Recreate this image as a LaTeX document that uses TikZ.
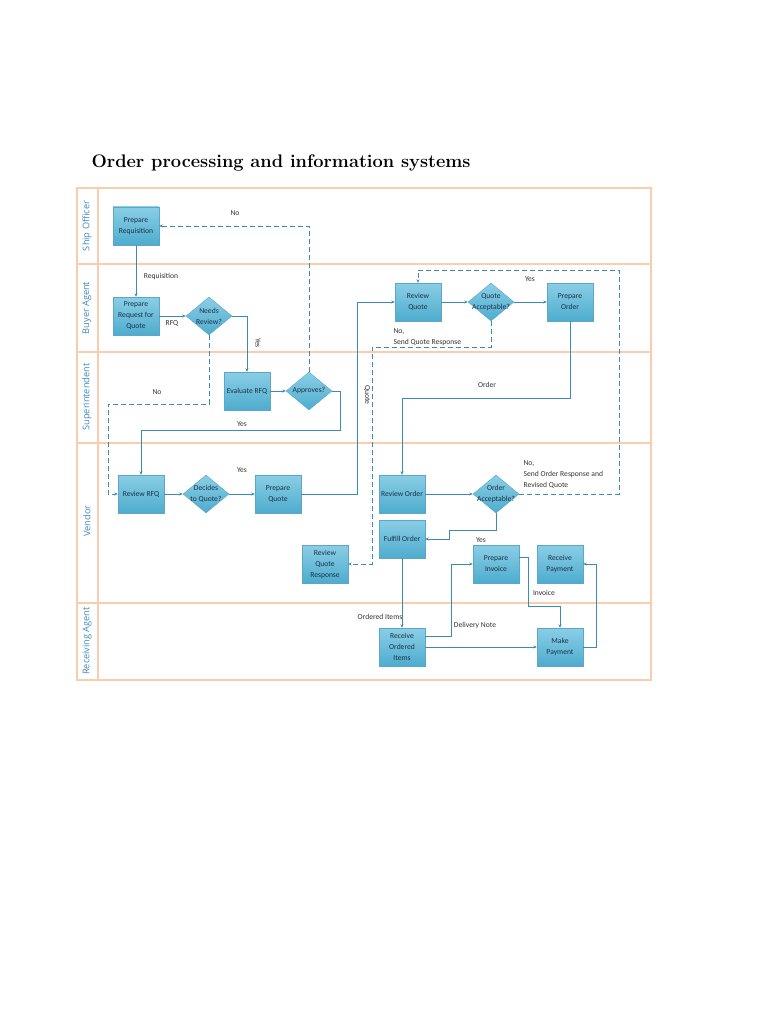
\documentclass[tikz,border=0pt]{standalone}
\usepackage{fontspec}
\newfontfamily\flowfont{Carlito}
\newfontfamily\lanefont{Open Sans}
\usetikzlibrary{shapes.geometric,arrows.meta}

\definecolor{laneline}{RGB}{250,205,172}
\definecolor{lanetext}{RGB}{62,135,192}
\definecolor{boxtop}{RGB}{138,206,230}
\definecolor{boxbot}{RGB}{78,172,206}
\definecolor{boxline}{RGB}{92,166,200}
\definecolor{boxtext}{RGB}{28,48,70}
\definecolor{flowline}{RGB}{58,140,176}

\begin{document}
\begin{tikzpicture}[x=1pt,y=-1pt,>={Stealth[length=3.5pt,width=3pt]},
  every node/.style={font=\flowfont\fontsize{7.6}{11}\selectfont},
  process/.style={rectangle,draw=boxline,top color=boxtop,bottom color=boxbot,
    minimum width=46pt,minimum height=38pt,inner sep=1pt,align=center,text=boxtext},
  decision/.style={diamond,draw=boxline,top color=boxtop,bottom color=boxbot,
    minimum width=46pt,minimum height=38pt,inner sep=0pt},
  dectext/.style={align=center,text=boxtext,inner sep=0pt},
  flow/.style={draw=flowline,line width=0.6pt},
  noflow/.style={flow,dash pattern=on 5pt off 3pt},
  lbl/.style={text=black!80,align=left},
  lane/.style={font=\lanefont\fontsize{9.2}{11}\selectfont,text=lanetext,rotate=90}]
  \useasboundingbox (0,0) rectangle (768,1024);

  % title
  \node[font=\bfseries\fontsize{18.2}{22}\selectfont,anchor=west] (title) at (88,163)
    {Order processing and information systems};

  % swimlanes
  \draw[laneline,line width=2pt] (77,188) rectangle (651,680);
  \draw[laneline,line width=2pt] (98,188) -- (98,680);
  \foreach \ly in {264,352,443,603}
    \draw[laneline,line width=2pt] (77,\ly) -- (651,\ly);
  \node[lane] (lship) at (87,226) {Ship Officer};
  \node[lane] (lbuyer) at (87,308) {Buyer Agent};
  \node[lane] (lsuper) at (87,397) {Superintendent};
  \node[lane] (lvendor) at (87,521) {Vendor};
  \node[lane] (lrecv) at (87,641) {Receiving Agent};

  % steps
  \node[process] (prepreq) at (136,226) {Prepare\\Requisition};
  \node[process] (preprfq) at (136,316) {Prepare\\Request for\\Quote};
  \node[decision,label={[dectext]center:{Needs\\Review?}}] (needs) at (209,316) {};
  \node[process] (evalrfq) at (247,391) {Evaluate RFQ};
  \node[decision,label={[dectext]center:{Approves?}}] (approves) at (309,391) {};
  \node[process] (reviewrfq) at (141,494) {Review RFQ};
  \node[decision,label={[dectext]center:{Decides\\to Quote?}}] (decides) at (206,494) {};
  \node[process] (prepquote) at (278,494) {Prepare\\Quote};
  \node[process] (reviewquote) at (418,302) {Review\\Quote};
  \node[decision,label={[dectext]center:{Quote\\Acceptable?}}] (quoteok) at (491,302) {};
  \node[process] (preporder) at (570,302) {Prepare\\Order};
  \node[process] (revieworder) at (402,494) {Review Order};
  \node[decision,label={[dectext]center:{Order\\Acceptable?}}] (orderok) at (496,494) {};
  \node[process] (fulfill) at (402,539) {Fulfill Order};
  \node[process] (reviewresp) at (325,564) {Review\\Quote\\Response};
  \node[process] (prepinv) at (496,564) {Prepare\\Invoice};
  \node[process] (recpay) at (560,564) {Receive\\Payment};
  \node[process] (receive) at (402,647) {Receive\\Ordered\\Items};
  \node[process] (makepay) at (560,647) {Make\\Payment};

  % connectors
  \draw[flow,->] (prepreq) -- (preprfq);
  \draw[flow,->] (preprfq) -- (needs);
  \draw[flow,->] (needs.east) -| (evalrfq.north);
  \draw[noflow,->] (needs.south) |- (108,404) |- (reviewrfq.west);
  \draw[flow,->] (evalrfq) -- (approves);
  \draw[noflow,->] (approves.north) |- (prepreq.east);
  \draw[flow,->] (approves.east) -| (340,430) -| (reviewrfq.north);
  \draw[flow,->] (reviewrfq) -- (decides);
  \draw[flow,->] (decides) -- (prepquote);
  \draw[flow,->] (prepquote.east) -- (357,494) |- (reviewquote.west);
  \draw[flow,->] (reviewquote) -- (quoteok);
  \draw[flow,->] (quoteok) -- (preporder);
  \draw[noflow,->] (quoteok.south) |- (372,347) |- (reviewresp.east);
  \draw[flow,->] (preporder.south) |- (402,398) -- (revieworder.north);
  \draw[flow,->] (revieworder) -- (orderok);
  \draw[flow,->] (orderok.south) |- (449,530) |- (fulfill.east);
  \draw[noflow,->] (orderok.east) -| (619,270) -| (reviewquote.north);
  \draw[flow,->] (fulfill) -- (receive);
  \draw[flow,->] ([yshift=11pt]receive.east) -| (451,564) -- (prepinv.west);
  \draw[flow,->,line width=1pt] (receive) -- (makepay);
  \draw[flow,->] ([yshift=7pt]prepinv.east) -| (528,606) -| (makepay.north);
  \draw[flow,->] (makepay.east) -| (596,564) -- (recpay.east);

  % labels
  \node[lbl] (tno) at (235,213) {No};
  \node[lbl] (treq) at (161,276) {Requisition};
  \node[lbl] (trfq) at (172,324) {RFQ};
  \node[lbl,rotate=-90] (tyesa) at (258,343) {Yes};
  \node[lbl] (tnob) at (157,392) {No};
  \node[lbl] (tyesb) at (242,424) {Yes};
  \node[lbl] (tyesc) at (242,470) {Yes};
  \node[lbl,rotate=-90] (tquote) at (367,395) {Quote};
  \node[lbl] (tyesd) at (530,279) {Yes};
  \node[lbl,anchor=west] (tnoc) at (390,337) {No,\\Send Quote Response};
  \node[lbl] (torder) at (487,385) {Order};
  \node[lbl,anchor=west] (tnod) at (520,475) {No,\\Send Order Response and\\Revised Quote};
  \node[lbl] (tyese) at (481,540) {Yes};
  \node[lbl] (titems) at (380,617) {Ordered Items};
  \node[lbl] (tnote) at (475,625) {Delivery Note};
  \node[lbl] (tinv) at (544,593) {Invoice};
\end{tikzpicture}
\end{document}
